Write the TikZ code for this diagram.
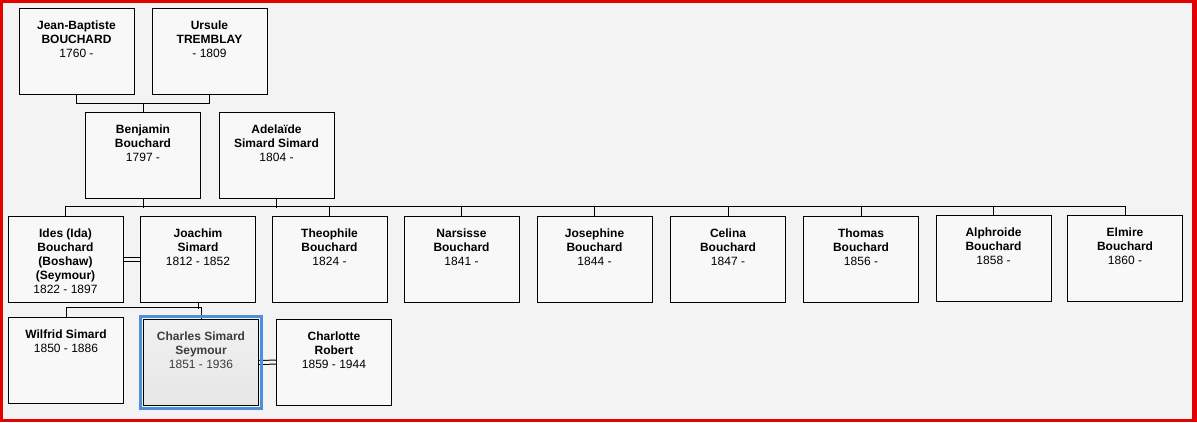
\documentclass[tikz,border=0pt]{standalone}
\usepackage{fontspec}
\setmainfont{Liberation Sans}
\usetikzlibrary{positioning, calc}
\definecolor{frame}{HTML}{E30000}
\definecolor{paper}{HTML}{F3F3F3}
\definecolor{boxfill}{HTML}{F8F8F8}
\definecolor{selblue}{HTML}{4A90DC}
\definecolor{selgray}{HTML}{3C3C3C}
\definecolor{seltop}{HTML}{F1F1F1}
\definecolor{selbot}{HTML}{E6E6E6}

\begin{document}
\begin{tikzpicture}[x=0.75pt, y=-0.75pt]
  \tikzstyle{person}=[draw, fill=boxfill, line width=0.75pt, minimum width=86.25pt, minimum height=64.5pt, inner sep=0pt]
  \tikzstyle{who}=[anchor=north, yshift=-9.5pt, inner sep=0pt, align=center, font=\fontsize{9}{10.5}\selectfont\bfseries]
  \tikzstyle{link}=[line width=0.75pt]
  \tikzstyle{wed}=[double=paper, double distance=2.25pt, line width=0.75pt]

  % frame and paper
  \useasboundingbox (0,0) rectangle (1197,422);
  \fill[frame] (0,0) rectangle (1197,422);
  \fill[paper] (3,3) rectangle (1192,419);

  % grandparents
  \node[person, label={[who]north:{Jean-Baptiste\\BOUCHARD\\\mdseries 1760 -}}] (jb) at (76.5,51) {};
  \node[person, label={[who]north:{Ursule\\TREMBLAY\\\mdseries - 1809}}] (ursule) at (209.5,51) {};

  % parents
  \node[person, label={[who]north:{Benjamin\\Bouchard\\\mdseries 1797 -}}] (benjamin) at (143,155) {};
  \node[person, label={[who]north:{Adela\"ide\\Simard Simard\\\mdseries 1804 -}}] (adelaide) at (276.5,155) {};

  % children
  \node[person, label={[who]north:{Ides (Ida)\\Bouchard\\(Boshaw)\\(Seymour)\\\mdseries 1822 - 1897}}] (ides) at (65.5,259) {};
  \node[person, label={[who]north:{Joachim\\Simard\\\mdseries 1812 - 1852}}] (joachim) at (198,259) {};
  \node[person, label={[who]north:{Theophile\\Bouchard\\\mdseries 1824 -}}] (theophile) at (329.5,259) {};
  \node[person, label={[who]north:{Narsisse\\Bouchard\\\mdseries 1841 -}}] (narsisse) at (461.5,259) {};
  \node[person, label={[who]north:{Josephine\\Bouchard\\\mdseries 1844 -}}] (josephine) at (594.5,259) {};
  \node[person, label={[who]north:{Celina\\Bouchard\\\mdseries 1847 -}}] (celina) at (728,259) {};
  \node[person, label={[who]north:{Thomas\\Bouchard\\\mdseries 1856 -}}] (thomas) at (861,259) {};
  \node[person, label={[who]north:{Alphroide\\Bouchard\\\mdseries 1858 -}}] (alphroide) at (993.5,258) {};
  \node[person, label={[who]north:{Elmire\\Bouchard\\\mdseries 1860 -}}] (elmire) at (1125,258) {};

  % grandchildren
  \node[person, label={[who]north:{Wilfrid Simard\\\mdseries 1850 - 1886}}] (wilfrid) at (66,360) {};
  \node[person, top color=seltop, bottom color=selbot,
    label={[who, text=selgray]north:{Charles Simard\\Seymour\\\mdseries 1851 - 1936}}] (charles) at (201,362.5) {};
  \node[person, label={[who]north:{Charlotte\\Robert\\\mdseries 1859 - 1944}}] (charlotte) at (334,362) {};

  % descent lines
  \draw[link] (jb.south) -- ++(0,9) -| (ursule.south);
  \draw[link] (benjamin.north) -- ++(0,-9);
  \draw[link] (benjamin.south) -- ++(0,9);
  \draw[link] (adelaide.south) -- ++(0,9);
  \draw[link] (ides.north) -- ++(0,-9) -| (elmire.north);
  \foreach \kid in {theophile, narsisse, josephine, celina, thomas, alphroide} {
    \draw[link] (\kid.north) -- ++(0,-9);
  }
  \draw[link] (joachim.south) -- ++(0,6);
  \draw[link] (wilfrid.north) -- ++(0,-9) -| (charles.north);

  % marriages
  \draw[wed] (ides) -- (joachim);
  \draw[wed] (charles) -- (charlotte);

  % selected person
  \draw[selblue, line width=2.6pt] ([shift={(-2.5,-2.5)}]charles.north west) rectangle ([shift={(2.5,2.5)}]charles.south east);
\end{tikzpicture}
\end{document}
